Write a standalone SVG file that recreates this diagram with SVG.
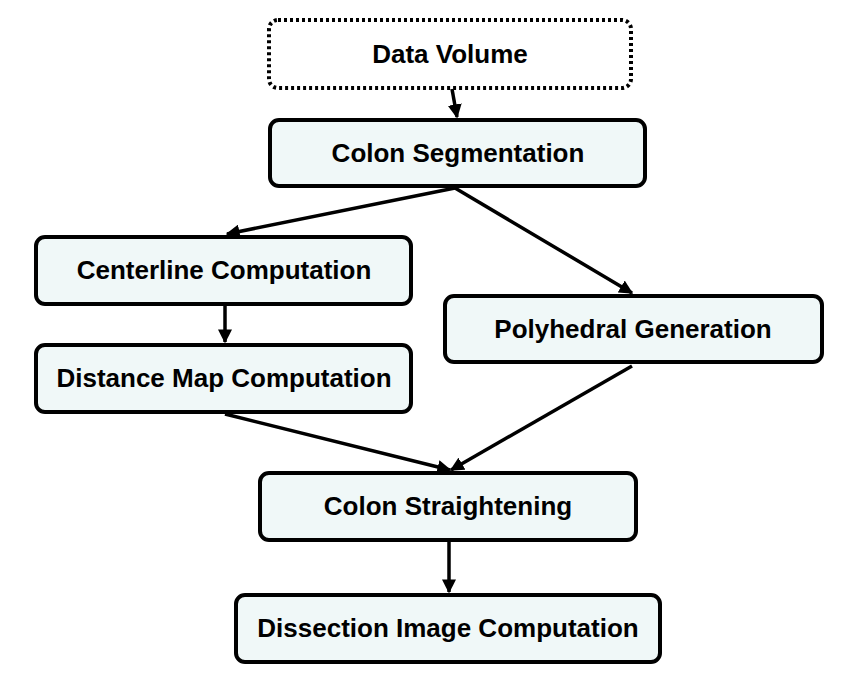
<svg xmlns="http://www.w3.org/2000/svg" width="856" height="693" viewBox="0 0 856 693">
<style>
.n rect{fill:#f0f8f8;stroke:#000;stroke-width:4}
.n text{font-family:"Liberation Sans",Arial,sans-serif;font-weight:bold;font-size:26px;text-anchor:middle;fill:#000}
#e line{stroke:#000;stroke-width:3.5;marker-end:url(#a)}
</style>
<defs><marker id="a" viewBox="0 0 10 10" refX="9" refY="5" markerWidth="4" markerHeight="4" orient="auto" markerUnits="strokeWidth"><path d="M0,0L10,5L0,10z" fill="#000"/></marker></defs>
<rect width="856" height="693" fill="#fff"/>
<g id="n1" class="n"><rect x="269" y="20" width="362" height="68" rx="9" style="fill:#fff;stroke-dasharray:3 3"/><text x="450" y="63">Data Volume</text></g>
<g id="n2" class="n"><rect x="270" y="120" width="375" height="66" rx="9"/><text x="458" y="162">Colon Segmentation</text></g>
<g id="n3" class="n"><rect x="36" y="237" width="375" height="67" rx="9"/><text x="224" y="279">Centerline Computation</text></g>
<g id="n4" class="n"><rect x="445" y="296" width="377" height="66" rx="9"/><text x="633" y="338">Polyhedral Generation</text></g>
<g id="n5" class="n"><rect x="36" y="345" width="375" height="67" rx="9"/><text x="224" y="387">Distance Map Computation</text></g>
<g id="n6" class="n"><rect x="260" y="473" width="376" height="67" rx="9"/><text x="448" y="515">Colon Straightening</text></g>
<g id="n7" class="n"><rect x="236" y="595" width="424" height="67" rx="9"/><text x="448" y="637">Dissection Image Computation</text></g>
<g id="e">
<line x1="452" y1="89" x2="457" y2="117"/>
<line x1="455" y1="188" x2="227" y2="234"/>
<line x1="455" y1="188" x2="632" y2="293"/>
<line x1="225" y1="305" x2="225" y2="342"/>
<line x1="225" y1="414" x2="450" y2="470"/>
<line x1="632" y1="366" x2="451" y2="470"/>
<line x1="449" y1="542" x2="449" y2="592"/>
</g>
</svg>
